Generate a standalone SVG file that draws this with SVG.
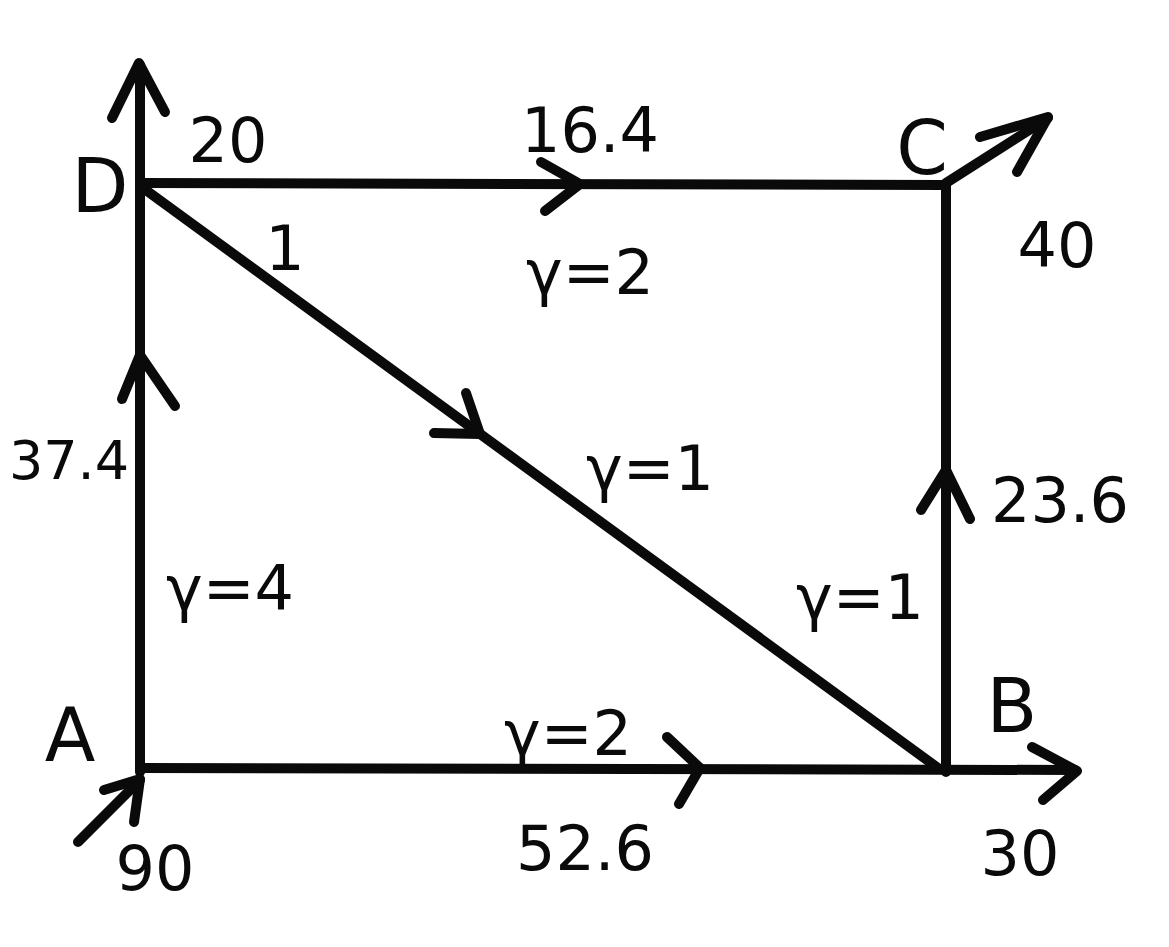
<svg xmlns="http://www.w3.org/2000/svg" width="1169" height="947" viewBox="0 0 1169 947">
<style>
.ln{stroke:#0a0a0a;stroke-width:10;fill:none;stroke-linecap:round;stroke-linejoin:round}
.ah{stroke:#0a0a0a;stroke-width:10;fill:none;stroke-linecap:round;stroke-linejoin:round}
text{font-family:"DejaVu Sans","Liberation Sans",sans-serif;fill:#0a0a0a;text-anchor:middle;dominant-baseline:central}
.lbl{font-size:62px}
.node{font-size:74px}
</style>
<rect width="1169" height="947" fill="#ffffff"/>
<g id="connectors">
<!-- edges -->
<path class="ln" d="M140,772 L140,65"/>
<path class="ln" d="M140,183 L945,185"/>
<path class="ln" d="M946,185 L946,772"/>
<path class="ln" d="M140,768 L1075,770"/>
<path class="ln" d="M143,188 L938,768"/>
<!-- external arrows -->
<path class="ah" d="M112,118 L139,63 L165,112"/>
<path class="ln" d="M946,183 L1048,118"/>
<path class="ah" d="M980,137 L1048,117 L1017,172"/>
<path class="ah" d="M1032,747 L1077,771 L1043,800"/>
<path class="ln" d="M78,842 L140,780"/>
<path class="ah" d="M104,790 L140,779 L134,822"/>
<!-- mid chevrons -->
<path class="ah" d="M122,399 L140,355 L175,406"/>
<path class="ah" d="M541,162 L580,184 L545,211"/>
<path class="ah" d="M921,510 L946,470 L970,519"/>
<path class="ah" d="M667,737 L700,768 L679,804"/>
<path class="ah" d="M466,393 L480,434 L434,433"/>
</g>
<g id="node-D"><text class="node" x="100" y="186">D</text></g>
<g id="node-C"><text class="node" x="922" y="148">C</text></g>
<g id="node-A"><text class="node" x="70" y="735">A</text></g>
<g id="node-B"><text class="node" x="1012" y="706">B</text></g>
<g id="labels">
<text class="lbl" x="228" y="140">20</text>
<text class="lbl" x="590" y="130">16.4</text>
<text class="lbl" x="1057" y="245">40</text>
<text class="lbl" x="285" y="248">1</text>
<text class="lbl" x="590" y="272">γ=2</text>
<text class="lbl" x="69" y="460" style="font-size:54px">37.4</text>
<text class="lbl" x="230" y="588">γ=4</text>
<text class="lbl" x="650" y="468">γ=1</text>
<text class="lbl" x="1060" y="500">23.6</text>
<text class="lbl" x="860" y="597">γ=1</text>
<text class="lbl" x="568" y="733">γ=2</text>
<text class="lbl" x="585" y="848">52.6</text>
<text class="lbl" x="155" y="868">90</text>
<text class="lbl" x="1020" y="853">30</text>
</g>
</svg>
